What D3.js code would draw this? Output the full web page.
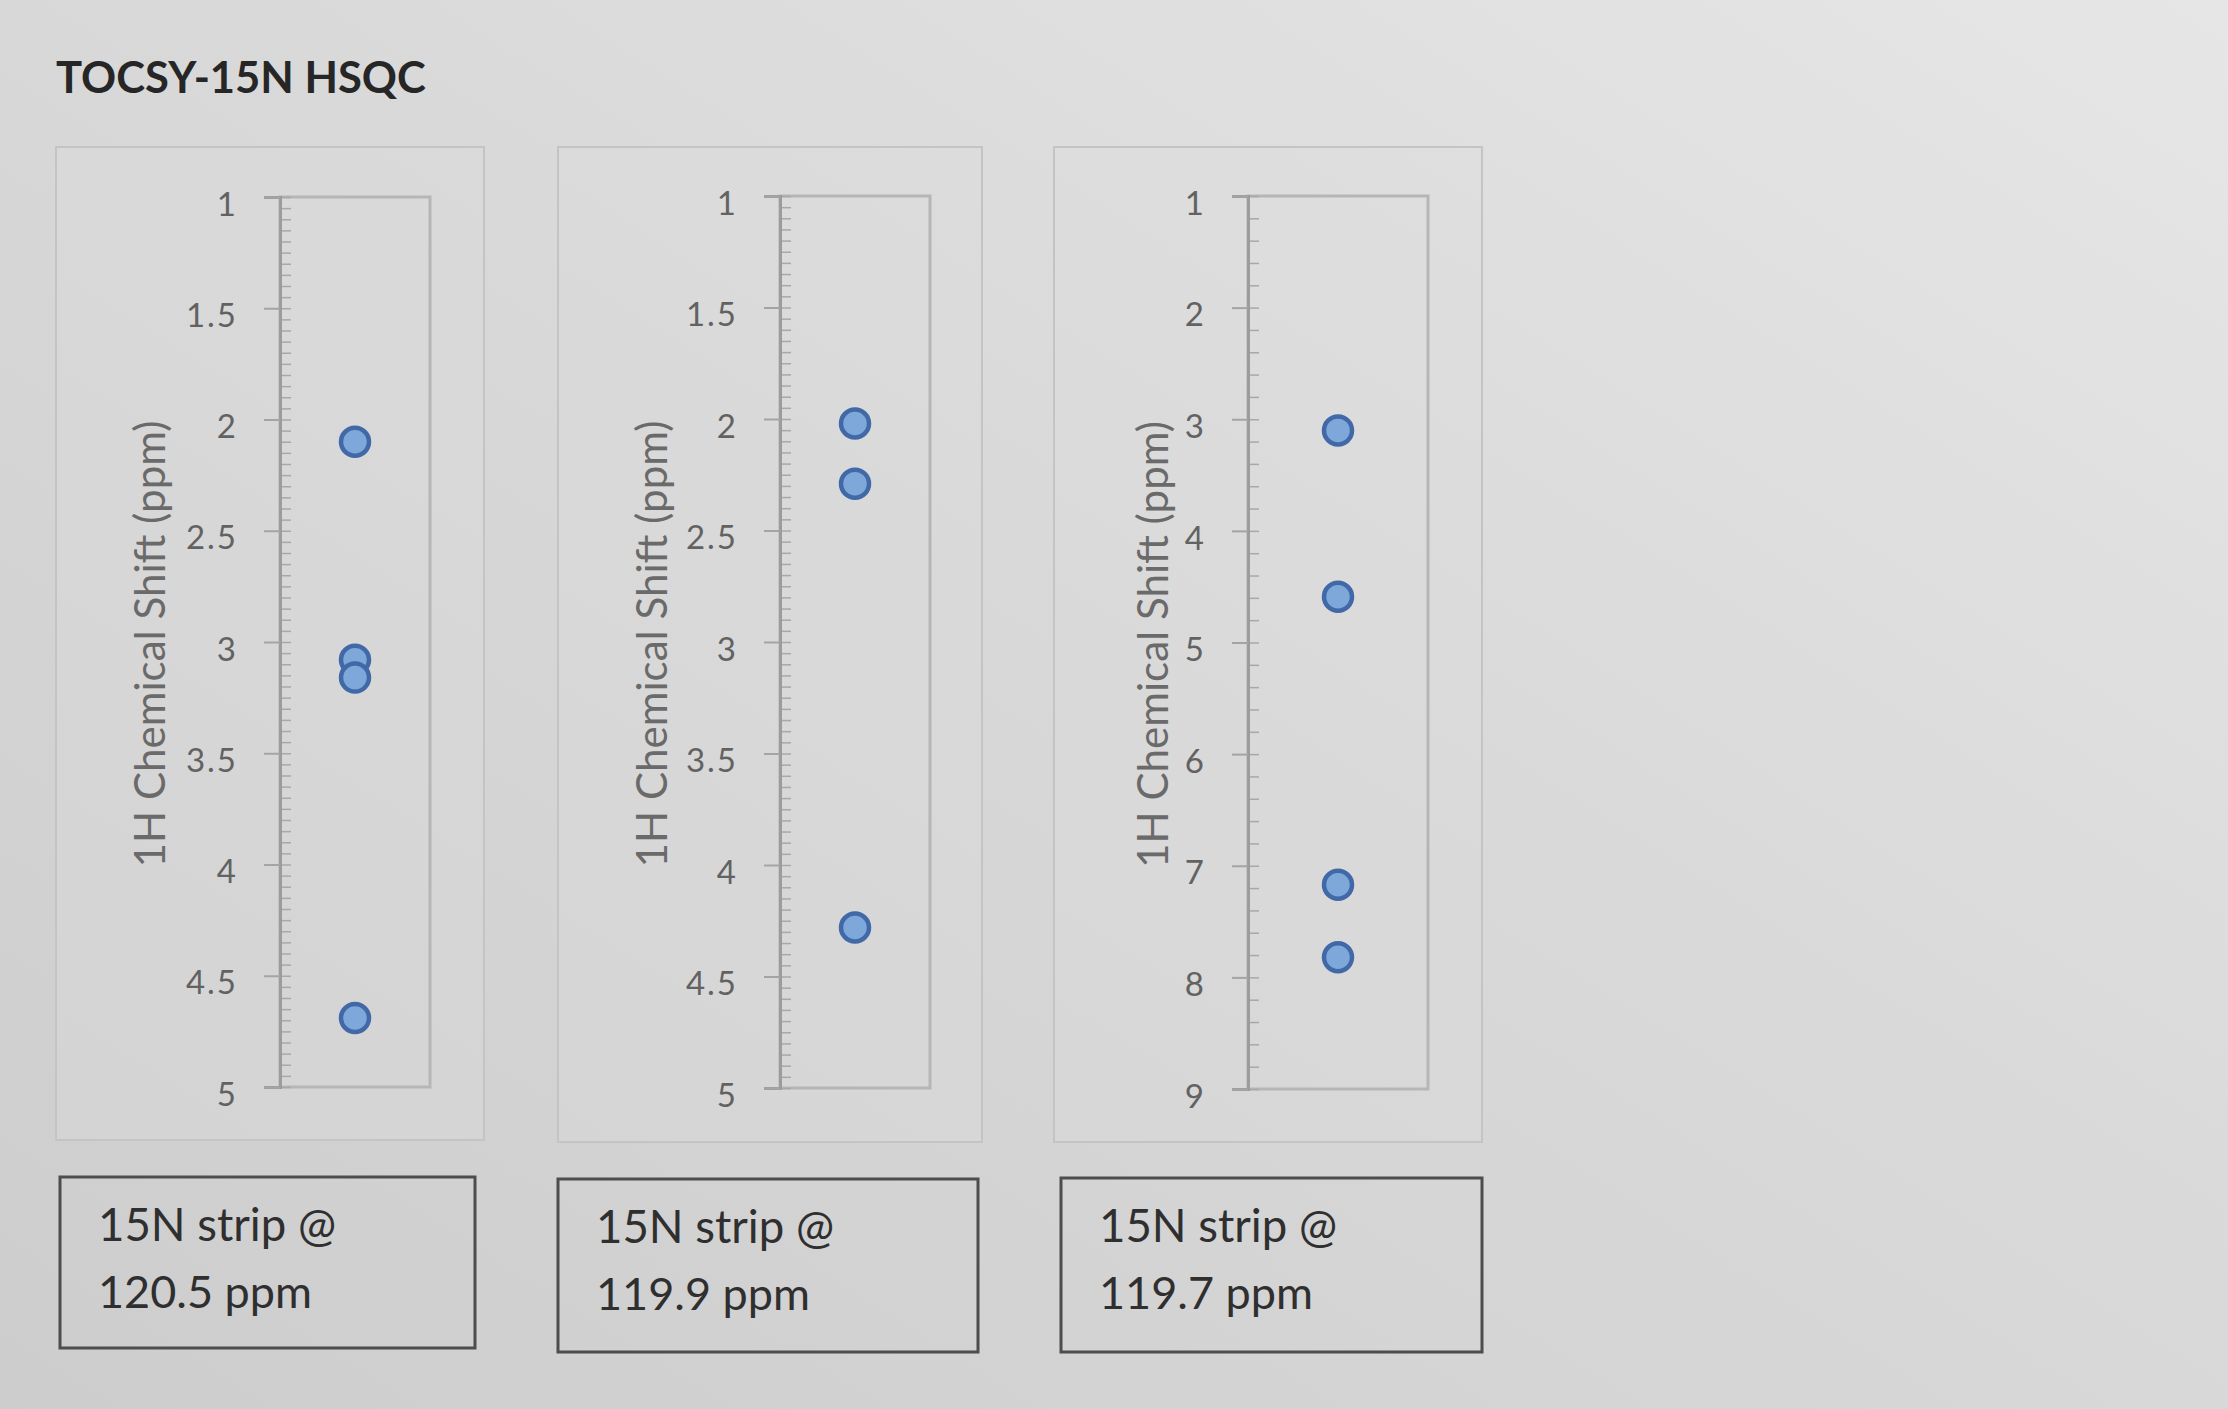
<!DOCTYPE html>
<html>
<head>
<meta charset="utf-8">
<script src="https://cdn.jsdelivr.net/npm/d3@7"></script>
<style>
  html, body { margin: 0; padding: 0; background: #d8d8d8; }
  svg { display: block; }
</style>
</head>
<body>
<svg id="chart" width="2228" height="1409"></svg>
<script>
// ---------------- DATA ----------------
const chartTitle = "TOCSY-15N HSQC";
const axisTitle = "1H Chemical Shift (ppm)";
const stripLabelLine1 = "15N strip @";
const stripPpmLabels = ["120.5 ppm", "119.9 ppm", "119.7 ppm"];

const strip1Domain = [1, 5];
const strip2Domain = [1, 5];
const strip3Domain = [1, 9];

const strip1Ticks = [1, 1.5, 2, 2.5, 3, 3.5, 4, 4.5, 5];
const strip2Ticks = [1, 1.5, 2, 2.5, 3, 3.5, 4, 4.5, 5];
const strip3Ticks = [1, 2, 3, 4, 5, 6, 7, 8, 9];

const strip1MinorStep = 0.05;
const strip2MinorStep = 0.05;
const strip3MinorStep = 0.2;

// 1H chemical shifts (ppm) of cross peaks in each 15N strip
const strip1Shifts = [2.10, 3.08, 3.16, 4.69];
const strip2Shifts = [2.02, 2.29, 4.28];
const strip3Shifts = [3.10, 4.59, 7.17, 7.82];

// ---------------- LAYOUT ----------------
const svg = d3.select("#chart");
const defs = svg.append("defs");
const bg = defs.append("linearGradient").attr("id", "bg")
  .attr("x1", "0").attr("y1", "1").attr("x2", "1").attr("y2", "0");
bg.append("stop").attr("offset", "0%").attr("stop-color", "#cdcdcd");
bg.append("stop").attr("offset", "55%").attr("stop-color", "#d9d9d9");
bg.append("stop").attr("offset", "100%").attr("stop-color", "#e6e6e6");
svg.append("rect").attr("width", 2228).attr("height", 1409).attr("fill", "url(#bg)");

const FONT = "Lato, 'Open Sans', sans-serif";

function fitText(sel, targetWidth, baseSize) {
  sel.attr("font-size", baseSize);
  const w = sel.node().getComputedTextLength();
  if (w > 0) sel.attr("font-size", baseSize * targetWidth / w);
  return sel;
}

// Title
const t = svg.append("text").attr("x", 56).attr("y", 93)
  .attr("font-family", FONT).attr("font-weight", 700).attr("fill", "#262626")
  .text(chartTitle);
fitText(t, 370, 44);

const panels = [
  { domain: strip1Domain, ticks: strip1Ticks, minor: strip1MinorStep, shifts: strip1Shifts, ppm: stripPpmLabels[0],
    box: [56, 147, 484, 1140], plot: [280, 197, 430, 1087], titleX: 150, label: [60, 1177, 475, 1348] },
  { domain: strip2Domain, ticks: strip2Ticks, minor: strip2MinorStep, shifts: strip2Shifts, ppm: stripPpmLabels[1],
    box: [558, 147, 982, 1142], plot: [780, 196, 930, 1088], titleX: 652, label: [558, 1179, 978, 1352] },
  { domain: strip3Domain, ticks: strip3Ticks, minor: strip3MinorStep, shifts: strip3Shifts, ppm: stripPpmLabels[2],
    box: [1054, 147, 1482, 1142], plot: [1248, 196, 1428, 1089], titleX: 1153, label: [1061, 1178, 1482, 1352] }
];

panels.forEach(p => {
  const [bx0, by0, bx1, by1] = p.box;
  const [px0, py0, px1, py1] = p.plot;

  // chart area frame
  svg.append("rect").attr("x", bx0).attr("y", by0).attr("width", bx1 - bx0).attr("height", by1 - by0)
    .attr("fill", "#dcdcdc").attr("fill-opacity", 0.35)
    .attr("stroke", "#c4c4c4").attr("stroke-width", 2);

  // plot area frame
  svg.append("rect").attr("x", px0).attr("y", py0).attr("width", px1 - px0).attr("height", py1 - py0)
    .attr("fill", "none").attr("stroke", "#b6b6b6").attr("stroke-width", 3);

  const y = d3.scaleLinear().domain(p.domain).range([py0, py1]);
  const x = d3.scaleLinear().domain([0, 2]).range([px0, px1]);

  // minor ticks (inside)
  const minorVals = d3.range(p.domain[0], p.domain[1] + 1e-9, p.minor);
  const gMinor = svg.append("g").attr("transform", `translate(${px0},0)`)
    .call(d3.axisLeft(y).tickValues(minorVals).tickSize(-11).tickFormat(""));
  gMinor.select(".domain").remove();
  gMinor.selectAll(".tick line").attr("stroke", "#a8a8a8").attr("stroke-width", 1.5);

  // major axis
  const gAxis = svg.append("g").attr("transform", `translate(${px0},0)`)
    .call(d3.axisLeft(y).tickValues(p.ticks).tickSize(16).tickPadding(26)
      .tickFormat(d3.format("~g")));
  gAxis.select(".domain").attr("stroke", "#9c9c9c").attr("stroke-width", 3);
  gAxis.selectAll(".tick line").attr("stroke", "#a4a4a4").attr("stroke-width", 2);
  gAxis.selectAll(".tick text")
    .attr("font-family", FONT).attr("font-size", 33).attr("fill", "#626262")
    .attr("letter-spacing", 2).attr("dy", "0.55em");

  // axis title
  const at = svg.append("text")
    .attr("transform", `translate(${p.titleX},${(py0 + py1) / 2 + 2}) rotate(-90)`)
    .attr("text-anchor", "middle").attr("dy", "0.35em")
    .attr("font-family", FONT).attr("fill", "#6a6a6a")
    .text(axisTitle);
  fitText(at, 447, 36);

  // peaks
  svg.append("g").selectAll("circle").data(p.shifts).join("circle")
    .attr("cx", x(1)).attr("cy", d => y(d)).attr("r", 14)
    .attr("fill", "#7ea7da").attr("stroke", "#4169a8").attr("stroke-width", 4.5);

  // strip label box
  const [lx0, ly0, lx1, ly1] = p.label;
  svg.append("rect").attr("x", lx0).attr("y", ly0).attr("width", lx1 - lx0).attr("height", ly1 - ly0)
    .attr("fill", "none").attr("stroke", "#4d4d4d").attr("stroke-width", 3);
  const l1 = svg.append("text").attr("x", lx0 + 38).attr("y", ly0 + 64)
    .attr("font-family", FONT).attr("fill", "#2f2f2f").text(stripLabelLine1);
  fitText(l1, 238, 40);
  const l2 = svg.append("text").attr("x", lx0 + 38).attr("y", ly0 + 131)
    .attr("font-family", FONT).attr("fill", "#2f2f2f").text(p.ppm);
  fitText(l2, 214, 40);
});
</script>
</body>
</html>
